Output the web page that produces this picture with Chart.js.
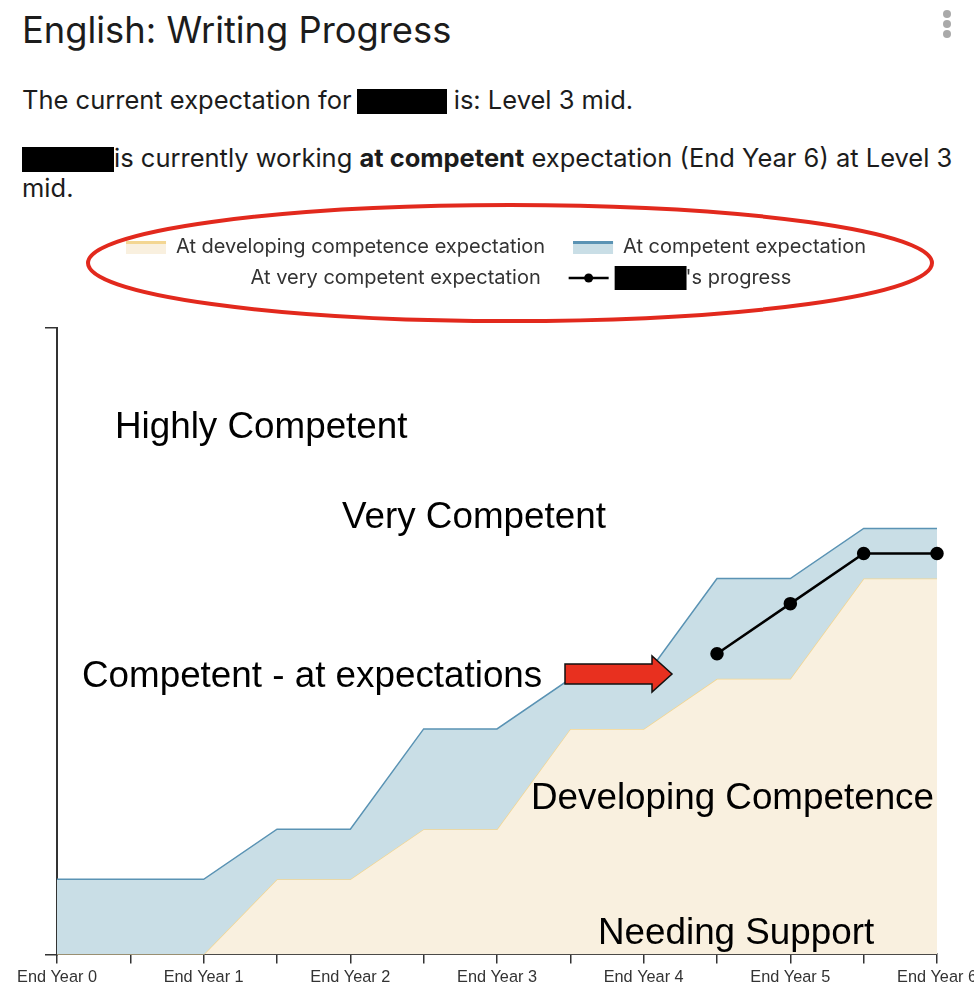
<!DOCTYPE html>
<html>
<head>
<meta charset="utf-8">
<script src="https://cdn.jsdelivr.net/npm/chart.js@4.4.1/dist/chart.umd.min.js"></script>
<style>
  html, body { margin: 0; padding: 0; background: #fff; }
  body { width: 974px; height: 1000px; position: relative; overflow: hidden; font-family: Inter, "Noto Sans", sans-serif; color: #1c1c1c; }
  #title { position: absolute; left: 22px; top: 8px; font-size: 36.3px; font-weight: 400; white-space: nowrap; }
  .line { position: absolute; left: 22px; font-size: 25.5px; white-space: nowrap; line-height: 30px; }
  .redact { display: inline-block; background: #000; height: 25px; vertical-align: -5px; }
  #menu { position: absolute; left: 943px; top: 10px; }
  #menu span { display: block; width: 8px; height: 8px; border-radius: 50%; background: #a9a9a9; margin-bottom: 2px; }
  #chartBox { position: absolute; left: -30px; top: 224px; width: 1052px; height: 776px; }
  .band { position: absolute; font-family: "Liberation Sans", Arial, sans-serif; font-size: 36.8px; line-height: 36px; color: #000; white-space: nowrap; }
  #marks { position: absolute; left: 0; top: 0; pointer-events: none; }
</style>
</head>
<body>
<div id="title">English: Writing Progress</div>
<div id="menu"><span></span><span></span><span></span></div>
<div class="line" style="top:85px">The current expectation for<span class="redact" style="width:90px; margin-left:5px"></span> is: Level 3 mid.</div>
<div class="line" style="top:143px"><span class="redact" style="width:92px"></span>is currently working <b>at competent</b> expectation (End Year 6) at Level 3<br>mid.</div>

<div id="chartBox"><canvas id="progressChart"></canvas></div>

<div class="band" style="left:115px; top:408px">Highly Competent</div>
<div class="band" style="left:342px; top:498px">Very Competent</div>
<div class="band" style="left:82px; top:657px">Competent - at expectations</div>
<div class="band" style="left:531px; top:779px">Developing Competence</div>
<div class="band" style="left:598px; top:914px">Needing Support</div>

<!-- annotations drawn on top of the screenshot: red ellipse and arrow -->
<svg id="marks" width="974" height="1000">
  <ellipse cx="510" cy="263" rx="422" ry="58" fill="none" stroke="#e2291d" stroke-width="4"/>
  <polygon points="565,664 652,664 652,656 672,674 652,692 652,684 565,684" fill="#e8301f" stroke="#111" stroke-width="1.5"/>
</svg>

<script>
// Half-year steps from End Year 0 to End Year 6 (only full years are labelled)
const yearLabels = ['End Year 0', '', 'End Year 1', '', 'End Year 2', '', 'End Year 3', '', 'End Year 4', '', 'End Year 5', '', 'End Year 6'];

// Expectation bands (curriculum sub-levels)
const developingValues = [0, 0, 0, 3, 3, 5, 5, 9, 9, 11, 11, 15, 15];
const competentValues = [3, 3, 3, 5, 5, 9, 9, 11, 11, 15, 15, 17, 17];
const veryCompetentValues = [];

// Student's own results, only known from mid Year 4
const progressValues = [null, null, null, null, null, null, null, null, null, 12, 14, 16, 16];

const yMin = 0;
const yMax = 25;

const legendFont = { family: 'Inter', size: 20 };
const legendShift = 5;
const hiddenName = 'Sandra';

// Legend markers are drawn by hand: band swatch with top line, line+dot for progress,
// and a black box over the student's name
const legendMarkers = {
    id: 'legendMarkers',
    afterInit(chart) {
        const legend = chart.legend;
        // extra room between the legend and the plot
        const fit = legend.fit;
        legend.fit = function () {
            fit.apply(legend, arguments);
            this.height += 30;
        };
        // legend sits a little right of the plot centre
        const draw = legend.draw;
        legend.draw = function () {
            chart.ctx.save();
            chart.ctx.translate(legendShift, 0);
            draw.apply(legend, arguments);
            chart.ctx.restore();
        };
    },
    afterDraw(chart) {
        const legend = chart.legend;
        const ctx = chart.ctx;
        const boxW = legend.options.labels.boxWidth;
        ctx.save();
        ctx.translate(legendShift, 0);
        legend.legendItems.forEach((item, i) => {
            const hb = legend.legendHitBoxes[i];
            const ds = chart.data.datasets[item.datasetIndex];
            const midY = hb.top + hb.height / 2;
            if (ds.legendKind === 'band') {
                ctx.fillStyle = ds.backgroundColor;
                ctx.fillRect(hb.left, midY - 6, boxW, 13);
                ctx.fillStyle = ds.borderColor;
                ctx.fillRect(hb.left, midY - 6, boxW, 3);
            } else if (ds.legendKind === 'progress') {
                ctx.strokeStyle = '#000';
                ctx.lineWidth = 2.5;
                ctx.beginPath();
                ctx.moveTo(hb.left, midY);
                ctx.lineTo(hb.left + boxW, midY);
                ctx.stroke();
                ctx.fillStyle = '#000';
                ctx.beginPath();
                ctx.arc(hb.left + boxW / 2, midY, 4.5, 0, Math.PI * 2);
                ctx.fill();
                // hide the name
                ctx.font = legendFont.size + 'px ' + legendFont.family;
                const nameW = ctx.measureText(hiddenName).width;
                const textX = hb.left + boxW + legendFont.size / 2;
                ctx.fillRect(textX - 4, midY - 12, nameW + 5, 24);
            }
        });
        ctx.restore();
    }
};

const canvas = document.getElementById('progressChart');

new Chart(canvas, {
    type: 'line',
    data: {
        labels: yearLabels,
        datasets: [{
            label: 'At developing competence expectation   ',
            legendKind: 'band',
            data: developingValues,
            backgroundColor: '#f9f0df',
            borderColor: '#f3d692',
            borderWidth: 1.5,
            fill: 'origin',
            pointRadius: 0,
            tension: 0,
            order: 3
        }, {
            label: 'At competent expectation',
            legendKind: 'band',
            data: competentValues,
            backgroundColor: '#c9dee6',
            borderColor: '#5a93b4',
            borderWidth: 1.5,
            fill: '-1',
            pointRadius: 0,
            tension: 0,
            order: 2
        }, {
            label: 'At very competent expectation   ',
            legendKind: 'none',
            data: veryCompetentValues,
            backgroundColor: 'rgba(255,255,255,0)',
            borderColor: 'rgba(255,255,255,0)',
            borderWidth: 0,
            pointRadius: 0,
            order: 1
        }, {
            label: hiddenName + "'s progress",
            legendKind: 'progress',
            data: progressValues,
            borderColor: '#000',
            backgroundColor: '#000',
            borderWidth: 2.5,
            pointRadius: 5.5,
            pointHoverRadius: 5.5,
            tension: 0,
            clip: false,
            order: 0
        }]
    },
    options: {
        animation: false,
        responsive: true,
        maintainAspectRatio: false,
        layout: {
            padding: { left: 75, right: 85, top: 2, bottom: 9 }
        },
        scales: {
            x: {
                offset: false,
                border: { display: true, color: '#333', width: 2 },
                grid: { display: true, drawOnChartArea: false, drawTicks: true, tickLength: 9, color: '#333', lineWidth: 1.5 },
                ticks: {
                    autoSkip: false,
                    maxRotation: 0,
                    color: '#333',
                    padding: 4,
                    font: { family: 'Liberation Sans', size: 16.3 }
                }
            },
            y: {
                min: yMin,
                max: yMax,
                border: { display: true, color: '#333', width: 2 },
                grid: { display: true, drawOnChartArea: false, drawTicks: true, tickLength: 12, color: '#333', lineWidth: 1.5 },
                ticks: { display: false },
                // only the two outer ticks, like the original axis
                afterBuildTicks: scale => {
                    scale.ticks = [{ value: yMin }, { value: yMax }];
                }
            }
        },
        plugins: {
            legend: {
                position: 'top',
                labels: {
                    color: '#333',
                    font: legendFont,
                    boxWidth: 40,
                    boxHeight: 13,
                    padding: 11,
                    sort: (a, b) => a.datasetIndex - b.datasetIndex,
                    generateLabels: chart => {
                        const items = Chart.defaults.plugins.legend.labels.generateLabels(chart);
                        items.forEach(it => {
                            it.fillStyle = 'rgba(0,0,0,0)';
                            it.strokeStyle = 'rgba(0,0,0,0)';
                            it.lineWidth = 0;
                        });
                        return items;
                    }
                }
            },
            tooltip: { enabled: false }
        }
    },
    plugins: [legendMarkers]
});
</script>
</body>
</html>
